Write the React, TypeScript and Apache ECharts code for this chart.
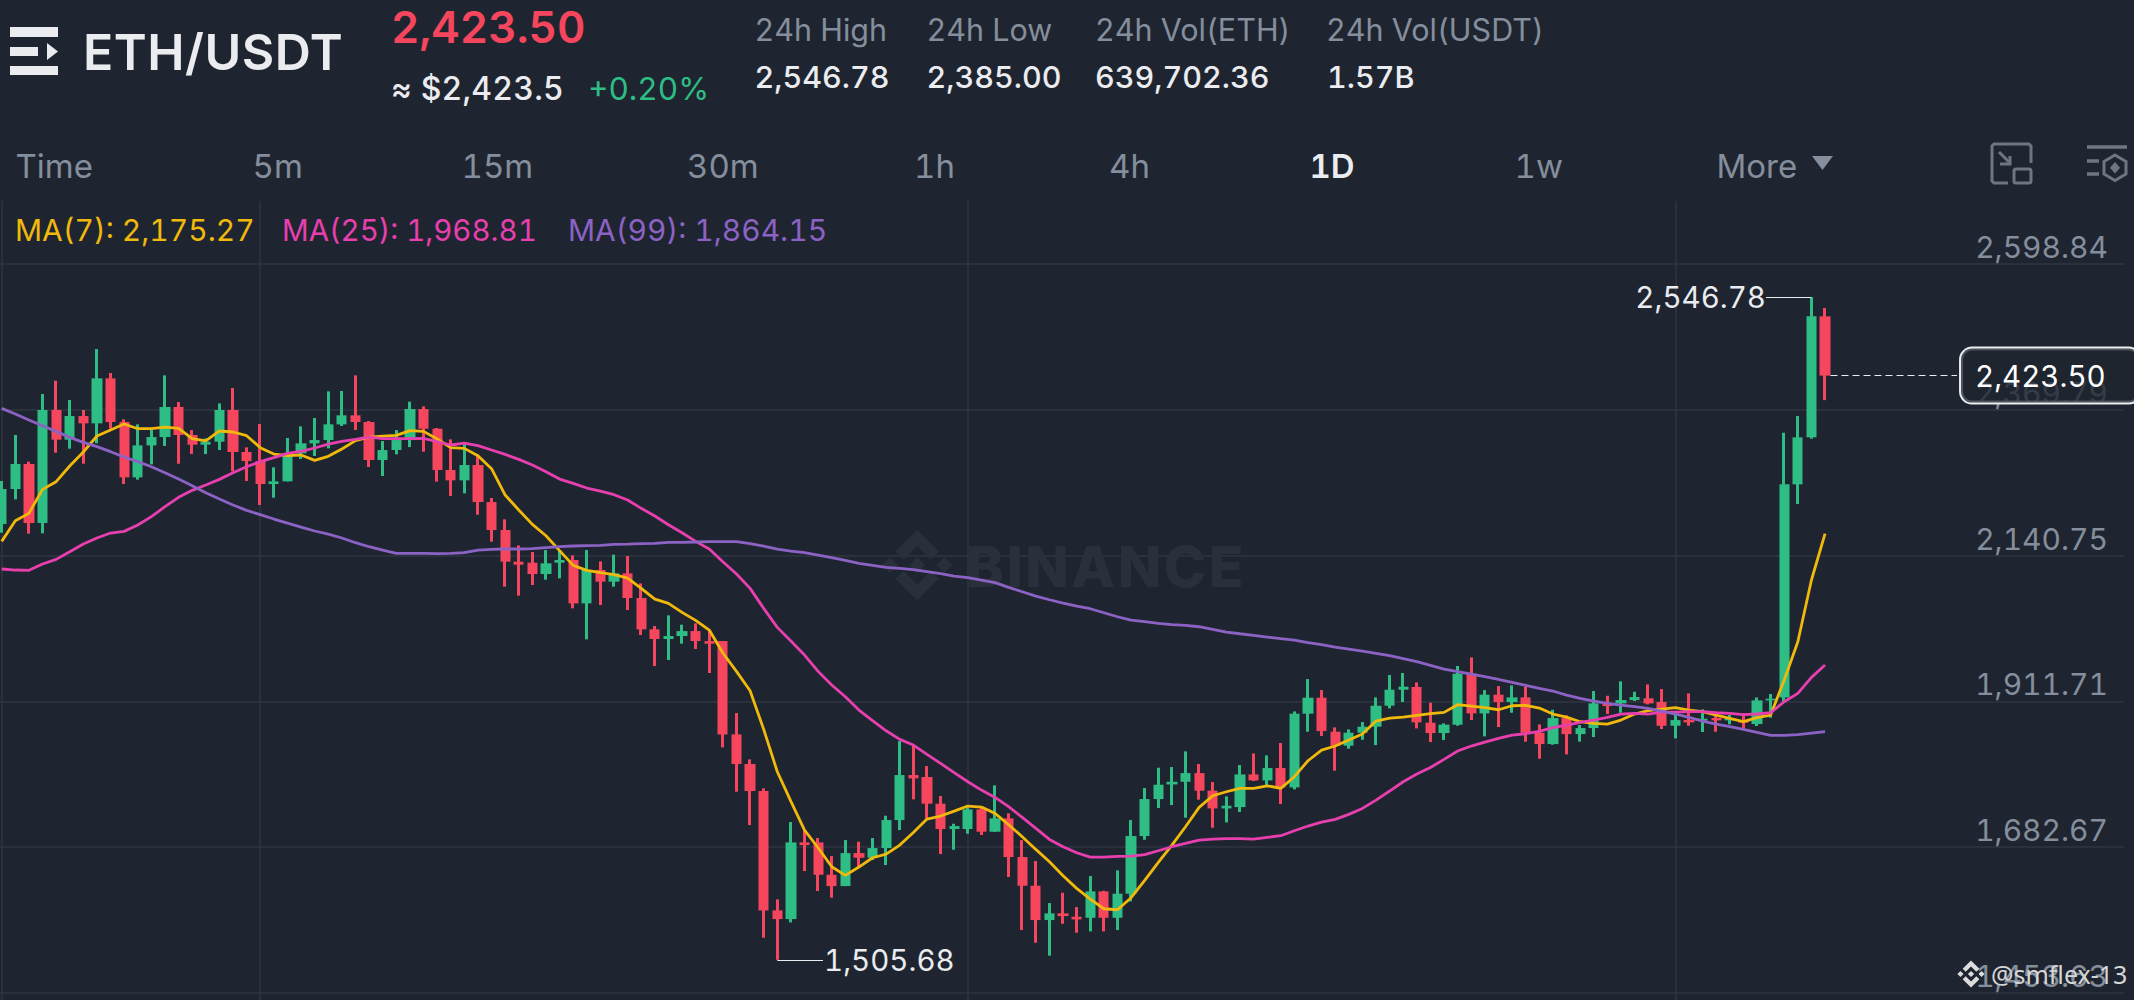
import React, { useEffect, useRef } from "react";
import * as echarts from "echarts";

const opens = [2190.4,2245.3,2284.6,2191.9,2369.5,2322.9,2360.0,2348.5,2419.2,2350.6,
2263.7,2313.9,2327.0,2374.2,2330.2,2315.0,2319.7,2369.5,2303.5,2289.3,
2253.2,2257.4,2301.4,2317.1,2322.3,2346.9,2361.1,2350.6,2290.9,2306.6,
2322.3,2371.0,2340.1,2275.2,2259.0,2283.0,2224.9,2180.9,2131.2,2129.6,
2111.8,2129.6,2133.8,2065.7,2118.1,2099.8,2112.8,2074.1,2024.9,2009.7,
2014.4,2022.2,2006.5,2006.5,1859.9,1813.3,1770.9,1583.4,1569.8,1690.2,
1690.2,1639.4,1621.6,1673.4,1666.1,1681.3,1725.3,1796.0,1792.9,1751.0,
1711.2,1711.2,1742.1,1707.0,1727.9,1667.2,1622.1,1568.2,1578.7,1573.4,
1571.8,1613.2,1571.8,1609.6,1700.2,1758.3,1781.3,1785.5,1799.1,1771.4,
1743.6,1745.7,1797.0,1787.6,1807.0,1776.6,1892.4,1917.5,1864.1,1842.1,
1862.5,1872.0,1904.9,1930.1,1934.3,1878.2,1862.0,1875.1,1955.2,1892.9,
1922.2,1910.7,1918.0,1862.5,1844.7,1885.5,1860.4,1869.8,1908.6,1908.6,
1913.8,1916.5,1910.7,1873.5,1882.4,1881.4,1885.6,1881.9,1881.9,1876.1,
1913.3,1918.0,2252.7,2326.5,2516.6];
const closes = [2245.3,2284.6,2191.9,2369.5,2322.9,2360.0,2348.5,2419.2,2350.6,2263.7,
2313.9,2327.0,2374.2,2330.2,2315.0,2319.7,2369.5,2303.5,2289.3,2253.2,
2257.4,2301.4,2317.1,2322.3,2346.9,2361.1,2350.6,2290.9,2306.6,2322.3,
2371.0,2340.1,2275.2,2259.0,2283.0,2224.9,2180.9,2131.2,2126.5,2111.8,
2128.6,2133.8,2065.7,2118.1,2099.8,2112.8,2074.1,2024.9,2009.7,2014.4,
2022.2,2006.5,2002.3,1859.9,1813.3,1770.9,1583.4,1569.8,1690.2,1686.0,
1639.4,1621.6,1673.4,1666.1,1681.3,1725.3,1796.0,1790.8,1751.0,1711.2,
1715.9,1742.1,1707.0,1727.9,1667.2,1622.1,1568.2,1578.7,1574.5,1569.2,
1613.2,1571.8,1609.6,1700.2,1758.3,1780.8,1785.5,1799.1,1771.4,1743.6,
1747.8,1797.0,1787.6,1807.0,1776.6,1892.4,1917.5,1865.1,1842.1,1862.5,
1872.0,1904.9,1930.1,1934.8,1878.8,1862.0,1875.1,1955.2,1892.9,1922.2,
1910.7,1918.0,1862.5,1844.7,1885.5,1860.4,1869.8,1908.6,1904.4,1913.8,
1918.5,1908.6,1873.5,1882.4,1878.8,1884.5,1881.9,1884.5,1878.2,1913.3,
1915.9,2252.7,2326.5,2516.6,2423.5];
const lows = [2176.7,2229.1,2175.2,2175.7,2302.4,2308.7,2285.1,2317.1,2340.1,2253.2,
2260.0,2284.1,2312.9,2285.1,2300.3,2300.3,2306.6,2273.1,2257.9,2220.2,
2231.7,2257.4,2292.5,2297.2,2309.2,2344.3,2338.0,2279.9,2265.8,2299.8,
2311.3,2304.0,2256.9,2234.4,2238.5,2205.0,2162.6,2091.9,2077.8,2094.5,
2102.9,2105.0,2057.9,2009.2,2063.1,2091.9,2055.2,2016.0,1967.2,1976.7,
2002.3,1994.0,1956.3,1839.5,1769.8,1717.4,1540.4,1505.68,1564.5,1645.2,
1613.8,1603.3,1621.6,1652.0,1662.4,1654.6,1709.6,1757.8,1727.9,1671.9,
1678.7,1703.8,1701.8,1707.0,1635.8,1552.5,1532.6,1512.2,1562.4,1548.3,
1550.4,1550.4,1552.5,1597.5,1694.4,1744.2,1748.9,1729.0,1757.3,1713.3,
1721.6,1737.9,1786.6,1780.3,1750.4,1773.5,1864.1,1857.3,1802.8,1837.4,
1851.5,1843.1,1900.7,1910.7,1869.3,1847.8,1851.0,1873.5,1882.4,1856.8,
1871.4,1893.9,1848.4,1821.7,1843.7,1828.5,1848.4,1855.7,1891.8,1893.9,
1912.3,1907.0,1868.3,1853.6,1873.5,1863.6,1864.1,1875.6,1869.3,1873.0,
1886.1,1911.2,2221.8,2324.4,2385.0];
const highs = [2257.9,2330.2,2288.3,2394.6,2415.5,2385.2,2369.5,2465.3,2427.6,2354.8,
2346.9,2338.0,2423.9,2382.0,2338.0,2324.9,2379.9,2404.0,2310.8,2347.5,
2279.4,2325.5,2343.8,2356.9,2398.8,2399.3,2423.9,2352.2,2320.8,2338.0,
2382.6,2375.2,2341.2,2323.4,2318.7,2299.3,2231.2,2197.7,2156.8,2146.4,
2149.5,2149.5,2141.1,2149.5,2131.7,2142.2,2140.1,2097.1,2030.1,2046.9,
2032.2,2034.3,2023.8,2006.5,1893.4,1820.6,1775.1,1600.7,1722.2,1709.6,
1697.0,1668.7,1693.9,1691.3,1697.0,1732.1,1849.4,1843.1,1810.1,1763.0,
1719.5,1747.3,1746.3,1779.8,1735.8,1693.9,1660.9,1594.9,1611.1,1588.6,
1637.3,1614.3,1646.2,1725.3,1775.6,1807.5,1808.6,1833.2,1813.3,1785.0,
1762.5,1811.7,1830.0,1826.9,1846.3,1896.0,1946.8,1929.5,1870.9,1867.8,
1879.3,1918.0,1953.1,1956.3,1941.6,1909.6,1877.2,1967.3,1980.9,1929.5,
1935.8,1936.9,1934.8,1875.6,1898.6,1889.8,1874.6,1928.0,1920.6,1943.2,
1926.9,1938.4,1931.1,1892.9,1924.3,1899.2,1892.9,1890.3,1892.9,1918.0,
1923.3,2333.8,2360.0,2546.78,2529.7];

const ma7 = [2163.1,2195.6,2207.1,2244.8,2256.9,2281.5,2303.5,2328.6,2338.0,2347.5,
2340.1,2340.1,2342.7,2340.6,2324.4,2320.8,2336.5,2334.9,2329.1,2310.3,
2300.3,2297.7,2298.8,2290.4,2296.7,2308.2,2321.3,2327.0,2328.6,2329.7,
2337.0,2335.9,2323.9,2310.3,2309.2,2297.7,2277.3,2235.9,2212.3,2189.8,
2172.0,2148.5,2125.4,2117.6,2113.9,2110.8,2105.5,2089.3,2072.5,2065.7,
2051.6,2039.0,2023.8,1987.7,1958.9,1928.5,1867.8,1801.2,1754.6,1709.6,
1681.8,1652.0,1638.4,1651.5,1666.1,1671.9,1686.0,1705.9,1726.9,1731.6,
1739.4,1747.3,1745.7,1735.8,1718.0,1699.1,1679.2,1659.8,1637.9,1618.0,
1601.2,1586.0,1584.4,1603.3,1630.5,1658.8,1686.0,1714.8,1745.2,1763.5,
1769.8,1775.1,1775.1,1779.2,1775.1,1793.4,1818.5,1835.3,1841.6,1851.0,
1860.4,1880.8,1885.5,1887.1,1889.8,1892.4,1894.5,1906.5,1904.4,1901.8,
1898.6,1904.9,1905.5,1901.3,1891.8,1887.1,1879.8,1877.2,1876.1,1882.4,
1891.8,1897.1,1899.7,1901.8,1898.1,1895.5,1890.3,1885.0,1879.8,1886.1,
1890.3,1945.3,2005.5,2102.4,2175.27];
const ma25 = [2119.7,2118.1,2117.6,2127.5,2134.8,2146.9,2158.9,2168.4,2176.2,2178.8,
2188.8,2201.9,2217.6,2232.3,2243.3,2251.6,2260.5,2271.0,2280.4,2288.3,
2294.6,2301.4,2304.5,2309.8,2316.0,2320.2,2323.4,2327.0,2324.4,2324.4,
2324.4,2324.9,2319.7,2314.5,2317.6,2313.4,2306.6,2299.8,2291.9,2283.0,
2272.6,2261.0,2254.2,2246.9,2242.2,2236.4,2228.1,2215.0,2202.9,2189.3,
2176.7,2163.1,2151.1,2131.2,2111.8,2089.3,2057.9,2028.0,2006.5,1984.5,
1958.9,1937.4,1919.1,1898.1,1881.4,1865.6,1852.0,1843.1,1828.5,1814.3,
1799.7,1785.5,1772.4,1760.9,1746.3,1729.5,1712.2,1694.9,1683.4,1674.0,
1667.2,1667.2,1668.2,1668.8,1670.9,1677.1,1683.4,1688.6,1693.9,1695.4,
1696.0,1696.0,1695.4,1698.1,1700.7,1708.5,1715.9,1722.2,1726.4,1734.2,
1743.6,1756.7,1770.9,1785.5,1797.6,1808.0,1820.6,1833.7,1841.6,1847.8,
1853.6,1858.8,1860.9,1864.6,1870.4,1874.6,1878.8,1882.4,1886.6,1891.8,
1892.9,1891.8,1895.0,1895.0,1895.5,1895.5,1893.9,1892.9,1890.8,1891.9,
1893.9,1911.2,1924.3,1949.5,1968.81];
const ma99 = [2372.1,2363.2,2353.7,2344.8,2335.9,2326.5,2318.7,2311.9,2304.0,2295.6,
2288.3,2280.4,2271.0,2261.0,2250.6,2239.6,2229.6,2220.2,2211.8,2205.0,
2198.2,2191.9,2185.6,2179.4,2174.6,2168.4,2161.0,2154.7,2149.5,2144.3,
2144.3,2144.3,2143.7,2144.3,2145.3,2149.5,2150.6,2151.1,2151.1,2151.6,
2153.2,2154.7,2155.8,2156.3,2156.8,2158.4,2158.9,2159.5,2160.0,2161.6,
2161.6,2162.1,2162.6,2162.6,2162.6,2159.5,2155.8,2151.1,2147.9,2145.3,
2141.6,2137.5,2133.3,2128.6,2125.4,2122.3,2120.7,2118.6,2115.5,2112.3,
2108.6,2106.0,2102.4,2098.2,2090.8,2084.0,2077.2,2071.4,2066.2,2061.5,
2057.3,2051.0,2044.7,2039.5,2036.9,2034.3,2032.2,2031.1,2029.0,2024.9,
2020.7,2018.0,2015.4,2012.8,2010.2,2008.1,2003.9,2000.8,1997.1,1994.0,
1990.8,1987.2,1983.5,1978.8,1974.1,1968.3,1962.5,1958.4,1954.7,1950.5,
1946.3,1941.6,1936.9,1932.2,1928.0,1921.7,1916.5,1912.3,1908.6,1906.0,
1903.4,1900.8,1896.6,1891.9,1886.6,1880.8,1876.1,1871.9,1867.8,1863.0,
1858.3,1858.3,1859.4,1862.0,1864.15];

const priceTicks = [1453.63, 1682.67, 1911.71, 2140.75, 2369.79, 2598.84];
const priceTickLabels = ["1,453.63", "1,682.67", "1,911.71", "2,140.75", "2,369.79", "2,598.84"];
const timeTicks = [19, 71, 123];
const tabs = ["Time", "5m", "15m", "30m", "1h", "4h", "1D", "1w", "More"];
const tabX = [15.5, 252.5, 461.5, 687, 914, 1109, 1309.5, 1514.5, 1716.5];
const FONT = "Inter, 'Noto Sans', sans-serif";
const BG = "#1f2530";
const UP = "#2ebd85";
const DOWN = "#f6465d";
const GREY = "#848e9c";
const ICON = "#6f7683";
const WHITE = "#eaecef";
const LINE = "#2f3540";
const YEL = "#f0b90b";
const PINK = "#e83fae";
const PUR = "#8c62c4";

// Tracking of the reference's face, applied to the SVG texts after they are drawn.
const spacedTexts: Record<string, number> = {
  "≈ $2,423.5": 0.2,
  "ETH/USDT": 0.5,
  "BINANCE": 2.5,
};

const logoD =
  "M38.73 53.2l24.59-24.58 24.6 24.6 14.3-14.31L63.32 0 24.42 38.9zM0 63.31l14.3-14.31 14.31 14.31-14.31 14.3zM38.73 73.41L63.32 98l24.6-24.6 14.31 14.29-38.9 38.91-38.91-38.88zM98 63.31l14.3-14.31 14.31 14.3-14.31 14.31zM77.83 63.3L63.32 48.78 52.59 59.51l-1.24 1.23-2.54 2.54 14.51 14.5 14.51-14.47z";
echarts.graphic.registerShape("bnbLogo", echarts.graphic.extendPath(logoD, {}));

function txt(text: string, x: number, y: number, fill: string, size: number, weight: number | string = 400, family = FONT) {
  return {
    type: "text",
    z: 100,
    style: {
      text,
      x,
      y,
      fill,
      fontFamily: family,
      fontSize: size,
      fontWeight: weight,
      textAlign: "left",
      align: "left",
      textVerticalAlign: "middle",
      verticalAlign: "middle",
    },
  };
}

export default function App() {
  const ref = useRef<HTMLDivElement>(null);
  useEffect(() => {
    document.body.style.margin = "0";
    document.body.style.background = BG;
    const chart = echarts.init(ref.current!, undefined, { renderer: "svg", width: 2134, height: 1000 });
    const idx = opens.map((_, i) => i);
    const graphicEls: any[] = [
      { type: "rect", shape: { x: 10, y: 27, width: 48, height: 10 }, style: { fill: WHITE } },
      { type: "rect", shape: { x: 10, y: 47, width: 28, height: 9 }, style: { fill: WHITE } },
      { type: "polygon", shape: { points: [[47, 43], [58, 51.5], [47, 60]] }, style: { fill: WHITE } },
      { type: "rect", shape: { x: 10, y: 66, width: 48, height: 9 }, style: { fill: WHITE } },
      txt("ETH/USDT", 83, 52, WHITE, 50, 600),
      txt("2,423.50", 391, 27, DOWN, 44, 600),
      txt("≈ $2,423.5", 391, 88, WHITE, 32, 500),
      txt("+0.20%", 588, 88, UP, 31.5, 400),
      txt("24h High", 754.5, 29, GREY, 30.5),
      txt("24h Low", 926.5, 29, GREY, 30.5),
      txt("24h Vol(ETH)", 1095, 29, GREY, 30.5),
      txt("24h Vol(USDT)", 1326, 29, GREY, 30.5),
      txt("2,546.78", 754.5, 76, WHITE, 30.5, 500),
      txt("2,385.00", 926.5, 76, WHITE, 30.5, 500),
      txt("639,702.36", 1095, 76, WHITE, 30.5, 500),
      txt("1.57B", 1327, 76, WHITE, 30.5, 500),
      ...tabs.map((t, i) => txt(t, tabX[i], 166, t === "1D" ? WHITE : GREY, 33, t === "1D" ? 600 : 400)),
      { type: "polygon", shape: { points: [[1812, 156], [1833, 156], [1822.5, 170]] }, style: { fill: GREY } },
      { type: "polyline", shape: { points: [[2031, 163], [2031, 146], [2029, 144], [1994, 144], [1992, 146], [1992, 181], [1994, 183], [2008, 183]] }, style: { stroke: ICON, lineWidth: 3, fill: "none" } },
      { type: "rect", shape: { x: 2014, y: 169, width: 17, height: 14, r: 2 }, style: { stroke: ICON, lineWidth: 3, fill: "none" } },
      { type: "polyline", shape: { points: [[1999, 152], [2010, 163]] }, style: { stroke: ICON, lineWidth: 3, fill: "none" } },
      { type: "polyline", shape: { points: [[2000, 164], [2010, 164], [2010, 156]] }, style: { stroke: ICON, lineWidth: 3, fill: "none" } },
      { type: "line", shape: { x1: 2087, y1: 147, x2: 2127, y2: 147 }, style: { stroke: ICON, lineWidth: 3.5 } },
      { type: "line", shape: { x1: 2087, y1: 161, x2: 2099, y2: 161 }, style: { stroke: ICON, lineWidth: 3.5 } },
      { type: "line", shape: { x1: 2087, y1: 174, x2: 2099, y2: 174 }, style: { stroke: ICON, lineWidth: 3.5 } },
      { type: "polygon", shape: { points: [[2115, 155], [2126, 161.5], [2126, 174], [2115, 180.5], [2104, 174], [2104, 161.5]] }, style: { stroke: ICON, lineWidth: 3, fill: "none" } },
      { type: "polygon", shape: { points: [[2115, 162], [2120, 167.7], [2115, 173.5], [2110, 167.7]] }, style: { fill: ICON } },
      txt("MA(7): 2,175.27", 15, 230, YEL, 30),
      txt("MA(25): 1,968.81", 282, 230, PINK, 29.5),
      txt("MA(99): 1,864.15", 568, 230, PUR, 30),
      { type: "bnbLogo", x: 1957.4, y: 960.4, scaleX: 0.215, scaleY: 0.215, z: 100, style: { fill: "#dcdcdc" } },
      txt("@smflex-13", 1991, 974, "#d6d6d6", 25, 400, "'Noto Sans', sans-serif"),
    ];
    chart.setOption({
      animation: false,
      backgroundColor: BG,
      graphic: { elements: graphicEls },
      grid: { left: 0, top: 201, width: 2124, height: 799, containLabel: false },
      tooltip: { show: false },
      xAxis: {
        type: "value",
        min: -0.125,
        max: 155.97,
        axisLine: { show: false },
        axisTick: { show: false, customValues: timeTicks },
        axisLabel: { show: false },
        splitLine: { show: true, lineStyle: { color: LINE, width: 1.5 } },
      },
      yAxis: {
        type: "value",
        position: "right",
        min: 1442.63,
        max: 2697.81,
        axisLine: { show: true, lineStyle: { color: LINE, width: 1.5 } },
        axisTick: { show: false, customValues: priceTicks },
        axisLabel: {
          show: true,
          inside: true,
          customValues: priceTicks,
          formatter: (v: number) => priceTickLabels[priceTicks.indexOf(v)],
          color: GREY,
          fontFamily: FONT,
          fontSize: 30,
          margin: 16,
          align: "right",
          verticalAlign: "bottom",
          padding: [0, 0, 2, 0],
          showMinLabel: true,
          showMaxLabel: true,
        },
        splitLine: { show: true, lineStyle: { color: LINE, width: 1.5 } },
      },
      series: [
        {
          type: "custom",
          name: "watermark",
          silent: true,
          z: 1,
          clip: false,
          coordinateSystem: "cartesian2d",
          data: [[70, 2000]],
          encode: { x: 0, y: 1 },
          renderItem: () => ({
            type: "group",
            children: [
              { type: "bnbLogo", x: 882, y: 530, scaleX: 0.555, scaleY: 0.555, style: { fill: "#2a303b" } },
              {
                type: "text",
                style: {
                  text: "BINANCE",
                  x: 966,
                  y: 566,
                  fill: "#2a303b",
                  fontFamily: FONT,
                  fontSize: 57,
                  fontWeight: 800,
                  textAlign: "left",
                  align: "left",
                  textVerticalAlign: "middle",
                  verticalAlign: "middle",
                },
              },
            ],
          }),
        },
        {
          type: "candlestick",
          name: "ETH/USDT",
          z: 2,
          barWidth: 1,
          clip: false,
          itemStyle: { color: UP, color0: DOWN, borderColor: UP, borderColor0: DOWN, borderWidth: 3 },
          data: idx.map((i) => [i, opens[i], closes[i], lows[i], highs[i]]),
        },
        {
          type: "candlestick",
          name: "bodies",
          z: 3,
          barWidth: 10.7,
          clip: false,
          itemStyle: { color: UP, color0: DOWN, borderColor: UP, borderColor0: DOWN, borderWidth: 0 },
          data: idx.map((i) => [i, opens[i], closes[i], Math.min(opens[i], closes[i]), Math.max(opens[i], closes[i])]),
          markLine: {
            silent: true,
            symbol: ["none", "none"],
            precision: 2,
            animation: false,
            data: [
              [
                {
                  coord: [133, 2546.78],
                  lineStyle: { color: WHITE, width: 1.2, type: "solid" },
                  label: { show: true, position: "end", distance: 0, formatter: "2,546.78", color: WHITE, fontFamily: FONT, fontSize: 29.5 },
                },
                { coord: [129.66, 2546.78] },
              ],
              [
                {
                  coord: [57, 1505.68],
                  lineStyle: { color: WHITE, width: 1.2, type: "solid" },
                  label: { show: true, position: "end", distance: 1, formatter: "1,505.68", color: WHITE, fontFamily: FONT, fontSize: 29.5 },
                },
                { coord: [60.36, 1505.68] },
              ],
              [
                {
                  coord: [134.4, 2423.5],
                  lineStyle: { color: WHITE, width: 1.2, type: [7, 4] },
                  label: {
                    show: true,
                    position: "end",
                    distance: 4,
                    formatter: "2,423.50",
                    color: "#ffffff",
                    fontFamily: FONT,
                    fontSize: 29.5,
                    backgroundColor: "rgba(31,37,48,0.78)",
                    borderColor: WHITE,
                    borderWidth: 2,
                    borderRadius: 11,
                    padding: [12, 39, 12, 14],
                  },
                },
                { coord: [143.7, 2423.5] },
              ],
            ],
          },
        },
        { type: "line", name: "MA(7)", z: 4, data: idx.map((i) => [i, ma7[i]]), showSymbol: false, symbol: "none", clip: false, lineStyle: { color: YEL, width: 2.8 } },
        { type: "line", name: "MA(25)", z: 4, data: idx.map((i) => [i, ma25[i]]), showSymbol: false, symbol: "none", clip: false, lineStyle: { color: PINK, width: 2.8 } },
        { type: "line", name: "MA(99)", z: 4, data: idx.map((i) => [i, ma99[i]]), showSymbol: false, symbol: "none", clip: false, lineStyle: { color: PUR, width: 2.8 } },
      ],
    });
    const applySpacing = () => {
      ref.current?.querySelectorAll("text").forEach((t) => {
        const s = t.textContent ? spacedTexts[t.textContent] : undefined;
        if (s) (t as SVGTextElement).style.letterSpacing = s + "px";
      });
    };
    chart.on("finished", applySpacing);
    chart.getZr().flush();
    applySpacing();
    return () => chart.dispose();
  }, []);
  return <div ref={ref} style={{ position: "absolute", left: 0, top: 0, width: 2134, height: 1000, fontFeatureSettings: '"tnum"' }} />;
}
